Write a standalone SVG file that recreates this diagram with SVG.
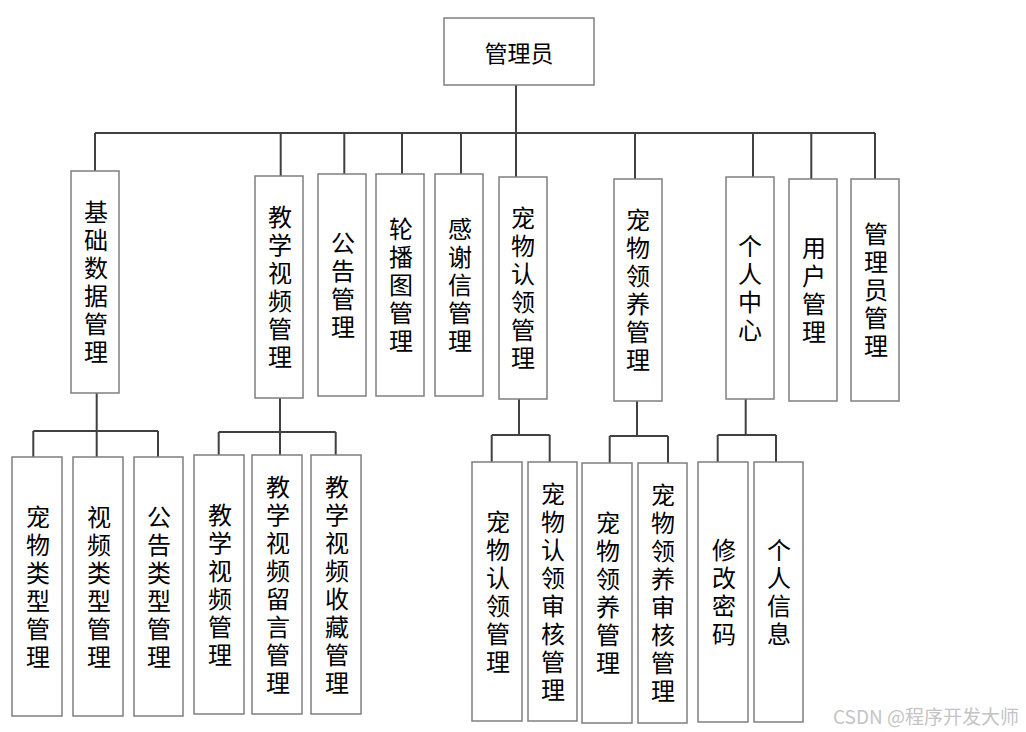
<svg xmlns="http://www.w3.org/2000/svg" width="1026" height="732" viewBox="0 0 1026 732">
<style>
.box{fill:#ffffff;stroke:#7f7f7f;stroke-width:1.5}
.lbl{font-family:"Noto Sans CJK SC","Noto Sans",sans-serif;font-size:24px;fill:#000000;text-anchor:middle}
.v{writing-mode:vertical-rl;letter-spacing:4px;text-orientation:upright}
.root{font-size:23px;dominant-baseline:central}
.wm{font-family:"Noto Sans CJK SC","Noto Sans",sans-serif;font-size:19px;fill:#c4c4c4;text-anchor:end;dominant-baseline:central}
.con{fill:none;stroke:#404040;stroke-width:2}
</style>
<rect width="1026" height="732" fill="#ffffff"/>
<g id="connectors" class="con">
<path d="M516,85V133M95,133H875M95,133V171M280.7,133V176M344.3,133V174M402,133V174M461,133V174M516,133V177M635,133V179M753,133V177M811.3,133V179M875,133V179"/>
<path d="M96.7,393V431M33.3,431H158M33.3,431V457M96.7,431V457M158,431V457"/>
<path d="M280,398V432M218.7,432H335.7M218.7,432V455M280,432V455M335.7,432V455"/>
<path d="M519,399V435M491.7,435H549.7M491.7,435V462M549.7,435V462"/>
<path d="M637,401V436M609.7,436H668M609.7,436V463M668,436V463"/>
<path d="M745.7,399V435M717.7,435H776M717.7,435V462M776,435V462"/>
</g>
<g id="n-root"><rect class="box" x="444" y="18" width="150" height="67"/><text class="lbl root" x="519" y="52">管理员</text></g>
<g id="n1"><rect class="box" x="71" y="171" width="48" height="222"/><text class="lbl v" x="96" y="284">基础数据管理</text></g>
<g id="n2"><rect class="box" x="255" y="176" width="48" height="222"/><text class="lbl v" x="280" y="289">教学视频管理</text></g>
<g id="n3"><rect class="box" x="318" y="174" width="48" height="222"/><text class="lbl v" x="343" y="287">公告管理</text></g>
<g id="n4"><rect class="box" x="376" y="174" width="48" height="222"/><text class="lbl v" x="401" y="287">轮播图管理</text></g>
<g id="n5"><rect class="box" x="435" y="174" width="48" height="222"/><text class="lbl v" x="460" y="287">感谢信管理</text></g>
<g id="n6"><rect class="box" x="499" y="177" width="48" height="222"/><text class="lbl v" x="523" y="290">宠物认领管理</text></g>
<g id="n7"><rect class="box" x="614" y="179" width="48" height="222"/><text class="lbl v" x="638" y="292">宠物领养管理</text></g>
<g id="n8"><rect class="box" x="726" y="177" width="48" height="222"/><text class="lbl v" x="750" y="290">个人中心</text></g>
<g id="n9"><rect class="box" x="789" y="179" width="48" height="222"/><text class="lbl v" x="814" y="292">用户管理</text></g>
<g id="n10"><rect class="box" x="851" y="179" width="48" height="222"/><text class="lbl v" x="876" y="292">管理员管理</text></g>
<g id="a1"><rect class="box" x="12" y="457" width="50" height="259"/><text class="lbl v" x="38" y="588.5">宠物类型管理</text></g>
<g id="a2"><rect class="box" x="73" y="457" width="50" height="259"/><text class="lbl v" x="99" y="588.5">视频类型管理</text></g>
<g id="a3"><rect class="box" x="134" y="457" width="49" height="259"/><text class="lbl v" x="159" y="588.5">公告类型管理</text></g>
<g id="b1"><rect class="box" x="194" y="455" width="50" height="259"/><text class="lbl v" x="220" y="586.5">教学视频管理</text></g>
<g id="b2"><rect class="box" x="252" y="455" width="50" height="259"/><text class="lbl v" x="278" y="586.5">教学视频留言管理</text></g>
<g id="b3"><rect class="box" x="311" y="455" width="50" height="259"/><text class="lbl v" x="337" y="586.5">教学视频收藏管理</text></g>
<g id="c1"><rect class="box" x="472" y="462" width="50" height="259"/><text class="lbl v" x="498" y="593.5">宠物认领管理</text></g>
<g id="c2"><rect class="box" x="528" y="462" width="49" height="259"/><text class="lbl v" x="553" y="593.5">宠物认领审核管理</text></g>
<g id="d1"><rect class="box" x="582" y="463" width="50" height="260"/><text class="lbl v" x="608" y="595">宠物领养管理</text></g>
<g id="d2"><rect class="box" x="638" y="463" width="49" height="260"/><text class="lbl v" x="663" y="595">宠物领养审核管理</text></g>
<g id="e1"><rect class="box" x="698" y="462" width="50" height="260"/><text class="lbl v" x="724" y="594">修改密码</text></g>
<g id="e2"><rect class="box" x="754" y="462" width="49" height="260"/><text class="lbl v" x="779" y="594">个人信息</text></g>
<text class="wm" x="1019" y="715">CSDN @程序开发大师</text>
</svg>
